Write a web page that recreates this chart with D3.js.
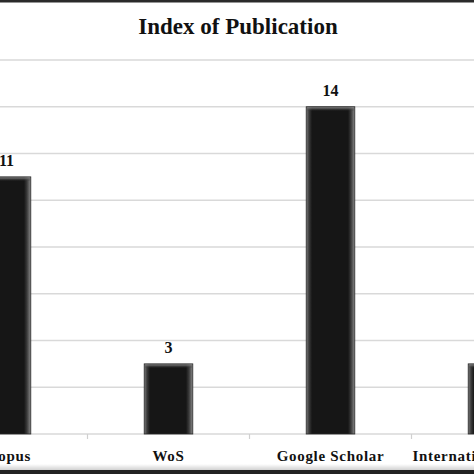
<!DOCTYPE html>
<html>
<head>
<meta charset="utf-8">
<script src="https://cdn.jsdelivr.net/npm/d3@7"></script>
<style>
  html, body { margin: 0; padding: 0; background: #fff; overflow: hidden; }
  svg { display: block; }
</style>
</head>
<body>
<svg id="chart" width="474" height="474"></svg>
<script>
const categories = ["Scopus", "WoS", "Google Scholar", "International Journals"];
const values = [11, 3, 14, 3];
const yTicks = [0, 2, 4, 6, 8, 10, 12, 14, 16];
const title = "Index of Publication";

const W = 474, H = 474;
const svg = d3.select("#chart");

const x = d3.scaleBand()
  .domain(categories)
  .range([-74.5, 573.5])
  .paddingInner(0.7)
  .paddingOuter(0.35);

const y = d3.scaleLinear().domain([0, 16]).range([434, 60]);

const defs = svg.append("defs");
const g1 = defs.append("linearGradient").attr("id", "barGrad")
  .attr("x1", "0").attr("x2", "1").attr("y1", "0").attr("y2", "0");
[[0, "#7a7a7a"], [0.06, "#3a3a3a"], [0.12, "#161616"], [0.86, "#161616"], [0.92, "#3a3a3a"], [1, "#8a8a8a"]]
  .forEach(([o, c]) => g1.append("stop").attr("offset", o).attr("stop-color", c));
const g2 = defs.append("linearGradient").attr("id", "topGrad")
  .attr("x1", "0").attr("x2", "0").attr("y1", "0").attr("y2", "1");
[[0, "#8a8a8a"], [1, "rgba(40,40,40,0)"]]
  .forEach(([o, c]) => g2.append("stop").attr("offset", o).attr("stop-color", c));
const g3 = defs.append("linearGradient").attr("id", "shadowGrad")
  .attr("x1", "0").attr("x2", "0").attr("y1", "0").attr("y2", "1");
[[0, "rgba(0,0,0,0)"], [1, "rgba(0,0,0,0.18)"]]
  .forEach(([o, c]) => g3.append("stop").attr("offset", o).attr("stop-color", c));

// gridlines
svg.append("g").selectAll("line").data(yTicks).join("line")
  .attr("x1", 0).attr("x2", W)
  .attr("y1", d => y(d)).attr("y2", d => y(d))
  .attr("stroke", "#d9d9d9").attr("stroke-width", 1.5);

// category separator ticks
const step = x.step();
svg.append("g").selectAll("line").data(categories.slice(0, -1)).join("line")
  .attr("x1", d => x(d) + x.bandwidth() / 2 + step / 2)
  .attr("x2", d => x(d) + x.bandwidth() / 2 + step / 2)
  .attr("y1", y(0)).attr("y2", y(0) + 5)
  .attr("stroke", "#d0d0d0").attr("stroke-width", 1.2);

// bars
const bars = svg.append("g");
bars.selectAll("rect.bar").data(values).join("rect")
  .attr("class", "bar")
  .attr("x", (d, i) => x(categories[i]))
  .attr("y", d => y(d))
  .attr("width", x.bandwidth())
  .attr("height", d => y(0) - y(d))
  .attr("fill", "url(#barGrad)")
  .attr("stroke", "#2a2a2a").attr("stroke-width", 0.8);
bars.selectAll("rect.top").data(values).join("rect")
  .attr("class", "top")
  .attr("x", (d, i) => x(categories[i]) + 1)
  .attr("y", d => y(d) + 0.5)
  .attr("width", x.bandwidth() - 2)
  .attr("height", 4)
  .attr("fill", "url(#topGrad)");

// value labels
svg.append("g").selectAll("text").data(values).join("text")
  .attr("x", (d, i) => x(categories[i]) + x.bandwidth() / 2)
  .attr("y", d => y(d) - 11)
  .attr("text-anchor", "middle")
  .attr("font-family", "'Liberation Serif', 'Times New Roman', serif")
  .attr("font-weight", "bold")
  .attr("font-size", 16)
  .attr("fill", "#111")
  .text(d => d);

// category labels
svg.append("g").selectAll("text").data(categories).join("text")
  .attr("x", d => x(d) + x.bandwidth() / 2)
  .attr("y", 461)
  .attr("text-anchor", "middle")
  .attr("font-family", "'Liberation Serif', 'Times New Roman', serif")
  .attr("font-weight", "bold")
  .attr("font-size", 15)
  .attr("letter-spacing", 0.7)
  .attr("fill", "#111")
  .text(d => d);

// title
svg.append("text")
  .attr("x", 238).attr("y", 34)
  .attr("text-anchor", "middle")
  .attr("font-family", "'Liberation Serif', 'Times New Roman', serif")
  .attr("font-weight", "bold")
  .attr("font-size", 23)
  .attr("fill", "#111")
  .text(title);

// frame bands
svg.append("rect").attr("x", 0).attr("y", 464).attr("width", W).attr("height", 6).attr("fill", "url(#shadowGrad)");
svg.append("rect").attr("x", 0).attr("y", 0).attr("width", W).attr("height", 2.5).attr("fill", "#2a2a2a");
svg.append("rect").attr("x", 0).attr("y", 470).attr("width", W).attr("height", 4).attr("fill", "#222");
</script>
</body>
</html>
